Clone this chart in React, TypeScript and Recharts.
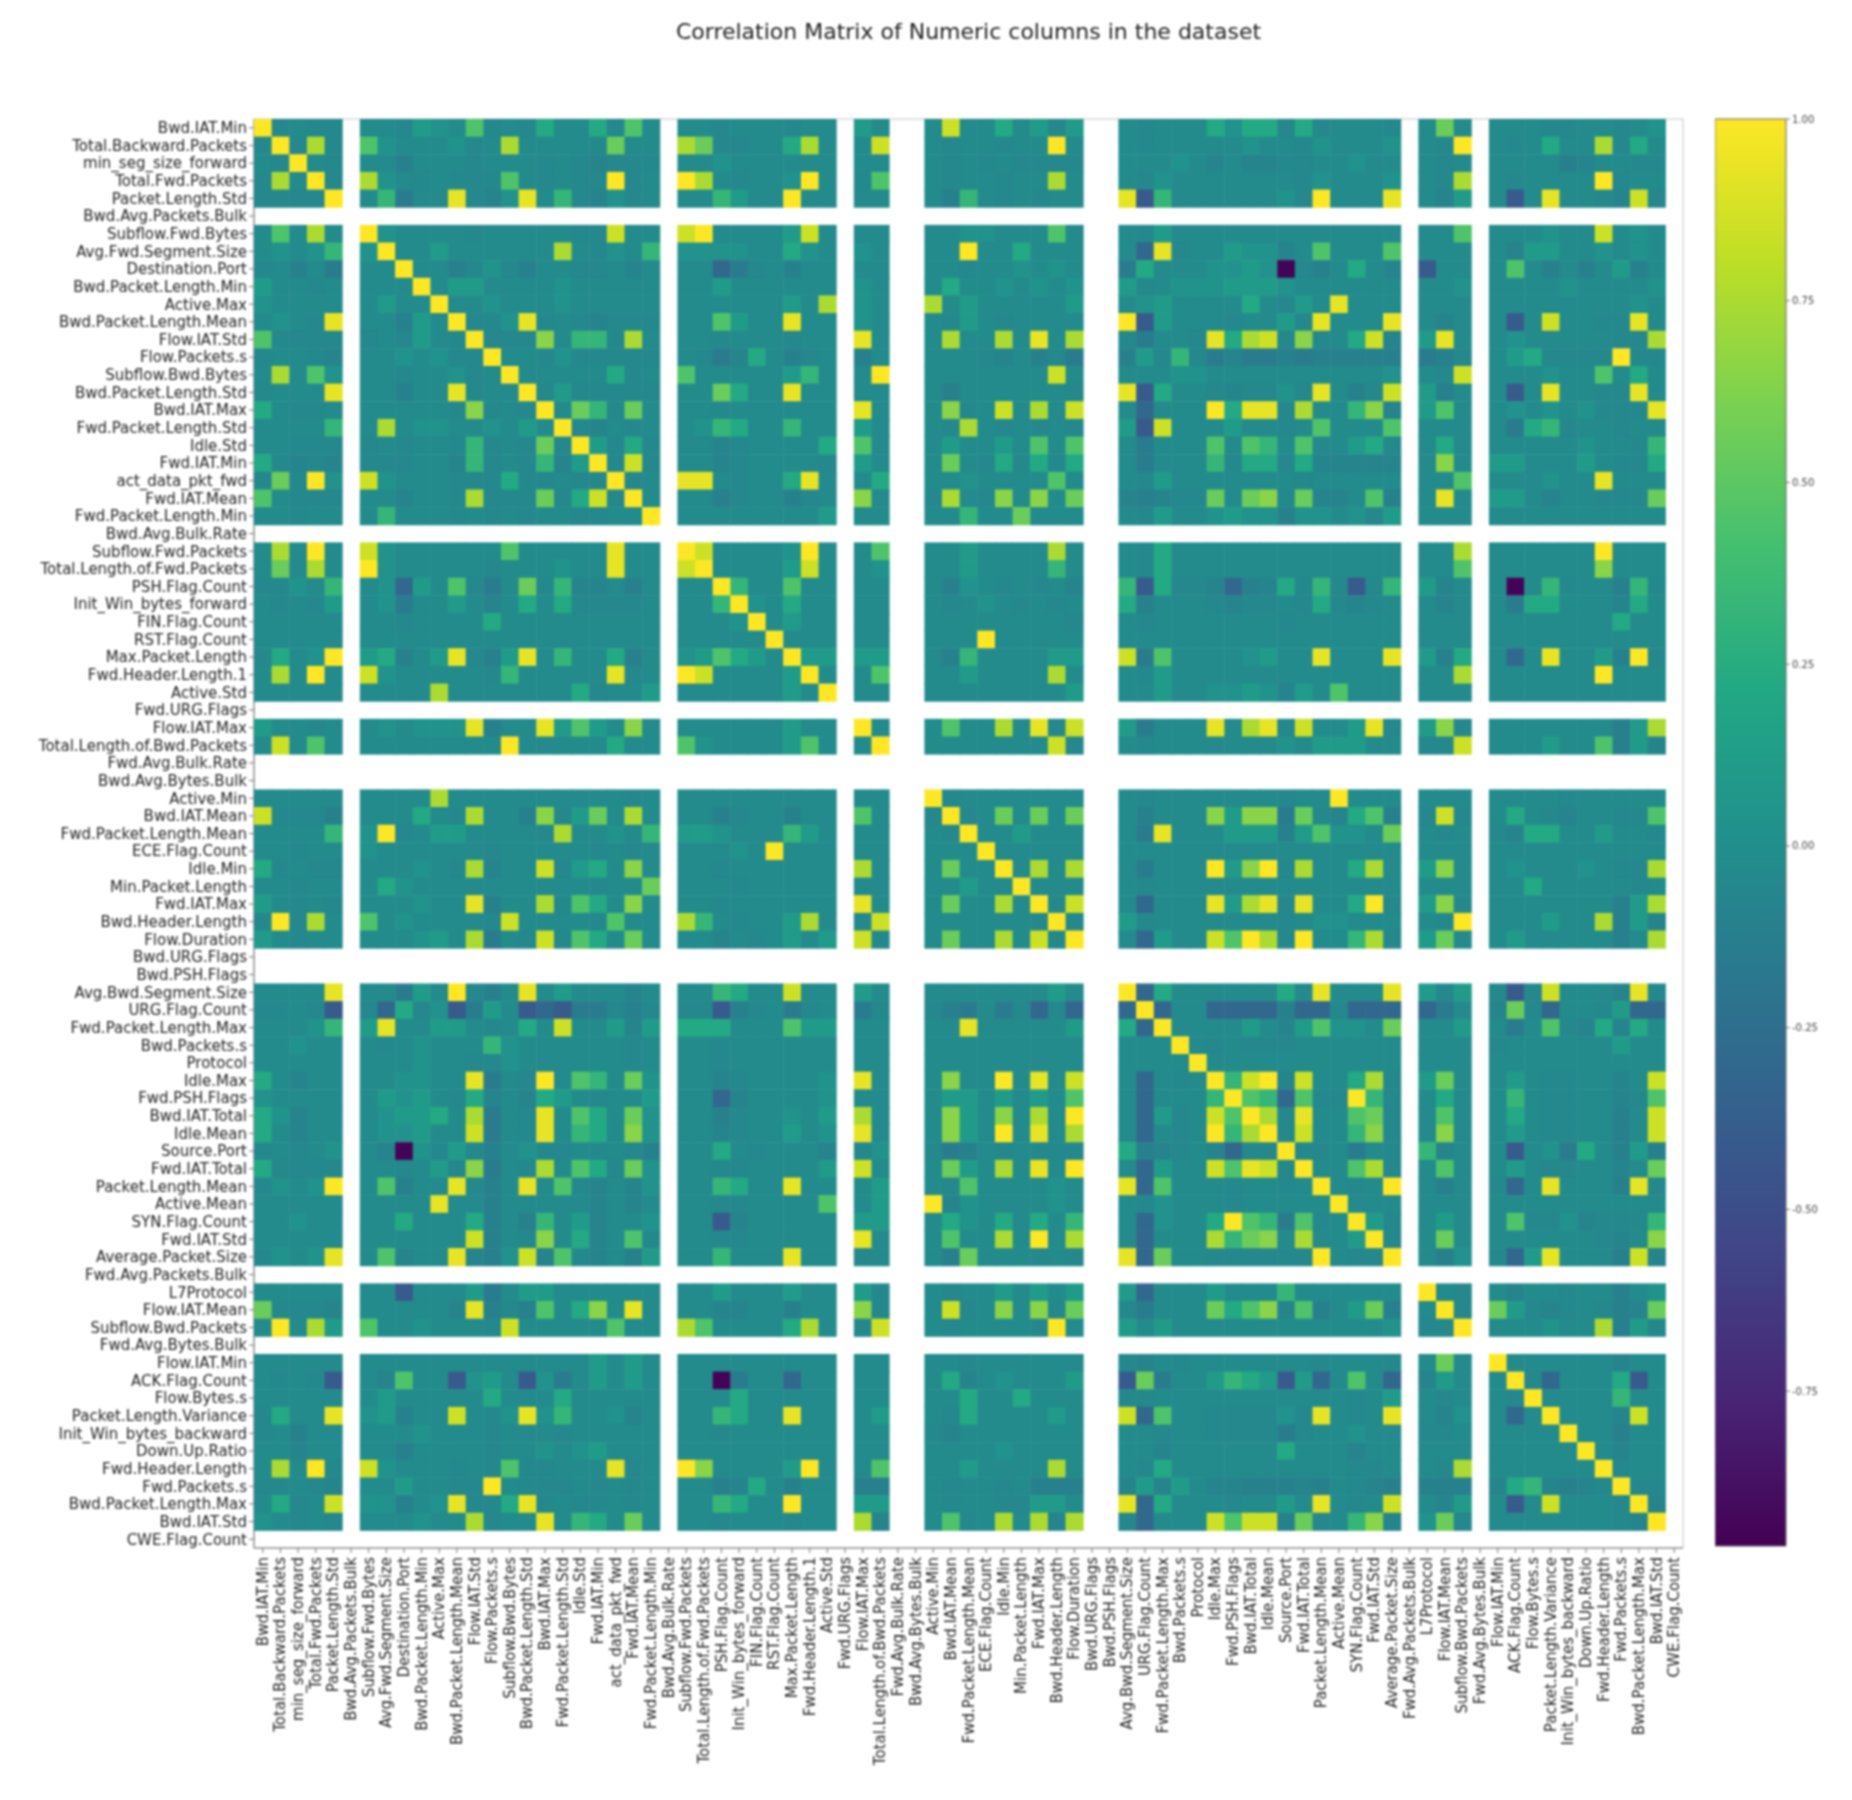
import React from 'react';
import { BarChart, Bar, ScatterChart, Scatter, XAxis, YAxis, ReferenceArea } from 'recharts';

const labels = [
  'Bwd.IAT.Min', 'Total.Backward.Packets', 'min_seg_size_forward', 'Total.Fwd.Packets', 'Packet.Length.Std',
  'Bwd.Avg.Packets.Bulk', 'Subflow.Fwd.Bytes', 'Avg.Fwd.Segment.Size', 'Destination.Port', 'Bwd.Packet.Length.Min',
  'Active.Max', 'Bwd.Packet.Length.Mean', 'Flow.IAT.Std', 'Flow.Packets.s', 'Subflow.Bwd.Bytes',
  'Bwd.Packet.Length.Std', 'Bwd.IAT.Max', 'Fwd.Packet.Length.Std', 'Idle.Std', 'Fwd.IAT.Min',
  'act_data_pkt_fwd', 'Fwd.IAT.Mean', 'Fwd.Packet.Length.Min', 'Bwd.Avg.Bulk.Rate', 'Subflow.Fwd.Packets',
  'Total.Length.of.Fwd.Packets', 'PSH.Flag.Count', 'Init_Win_bytes_forward', 'FIN.Flag.Count', 'RST.Flag.Count',
  'Max.Packet.Length', 'Fwd.Header.Length.1', 'Active.Std', 'Fwd.URG.Flags', 'Flow.IAT.Max',
  'Total.Length.of.Bwd.Packets', 'Fwd.Avg.Bulk.Rate', 'Bwd.Avg.Bytes.Bulk', 'Active.Min', 'Bwd.IAT.Mean',
  'Fwd.Packet.Length.Mean', 'ECE.Flag.Count', 'Idle.Min', 'Min.Packet.Length', 'Fwd.IAT.Max',
  'Bwd.Header.Length', 'Flow.Duration', 'Bwd.URG.Flags', 'Bwd.PSH.Flags', 'Avg.Bwd.Segment.Size',
  'URG.Flag.Count', 'Fwd.Packet.Length.Max', 'Bwd.Packets.s', 'Protocol', 'Idle.Max',
  'Fwd.PSH.Flags', 'Bwd.IAT.Total', 'Idle.Mean', 'Source.Port', 'Fwd.IAT.Total',
  'Packet.Length.Mean', 'Active.Mean', 'SYN.Flag.Count', 'Fwd.IAT.Std', 'Average.Packet.Size',
  'Fwd.Avg.Packets.Bulk', 'L7Protocol', 'Flow.IAT.Mean', 'Subflow.Bwd.Packets', 'Fwd.Avg.Bytes.Bulk',
  'Flow.IAT.Min', 'ACK.Flag.Count', 'Flow.Bytes.s', 'Packet.Length.Variance', 'Init_Win_bytes_backward',
  'Down.Up.Ratio', 'Fwd.Header.Length', 'Fwd.Packets.s', 'Bwd.Packet.Length.Max', 'Bwd.IAT.Std',
  'CWE.Flag.Count',
];

// columns with no variance, they stay blank in the matrix
const blankColumns = [5, 23, 33, 36, 37, 47, 48, 65, 69, 80];

// one letter per estimated correlation
const levelValues: Record<string, number> = {
  z: 1, y: 0.93, x: 0.85, w: 0.75, v: 0.65, u: 0.55, t: 0.45, s: 0.33, r: 0.22, q: 0.1, p: 0.03,
  o: -0.03, n: -0.05, m: -0.08, l: -0.11, k: -0.15, j: -0.3, i: -0.4, f: -0.95,
};

// upper triangle, each row starts on the diagonal, spaces mark the blank columns
const corrRows = [
  'znonn oonqpotnonroornto oonooonoo qo oxooroqnq onooorprrnrnooon ouo ooonnoonop',
  'znwn tpooopnowoooonuoo wunnoorwo ox onoonoozo onooooopoonpooop onz onoroownro',
  'zon oolooonooononmnnn oopoooooo oo onononnnn ooopomommnnoopoo ono oooolmoonn',
  'zn wpononnntononnzno zwonoopzo nt onoonoowo onpooooooonpooop onw onooooznoo',
  'z oskooynmpyosnmpno oosqoozoo oo olsononoo yisoooooopnzoooy omq oioyoonmxn',
  'zpoooonooooonnxoo xzooooqxo oo ooppoooto onqooooooooooooo oot ooopooxopo',
  'zooqoooooowonpos ppppoorpo po oozoorooo ojynooqppmotooot ooo omqqoopopo',
  'zoolnpnloonnomo oojknoloo oo oonoopopo kroooppqpfnlorom ioo otololoqlo',
  'zoqqoooopooooo ooqoooooo po oroopopop qnopppqqqpoooooo oop oooopoooop',
  'zoopooopooooo ooooooqow po woqoooooq opqooooronqoyooo ooo oooooooopo',
  'znnpynonmnnn ootqooyoo po onqonoooo ziqooonooqnyoooy omo oioxoonnyo',
  'znnnvossnwo oonooonoo yo owoowoyow nkoonyrwxnvnorxm qyo opooooonnw',
  'zoonpnnnnn onkmrolno lo ooonmolnk lqnsnkmkklklllll kln oqrnnnnznn',
  'zooooorno toooooqso oz oooooooxo oooppoooooooooop onx ooopootoro',
  'znqnnnnn oourooyoo oo oloooooon yiroonmnnpnyolnx qlo oioyoonnyo',
  'zousnuo oonoooooo yo ovnoxowox ojooozryynwoosvm qto opopopnnny',
  'znmono opsroosoo qo onwononon qixoooqoonotooot ooo okrsnoonoo',
  'zqnrn oomnoooor to oqooqotot okooototsotnoqrn oro ooooopoons',
  'znxn oomnoooon qo ouonrnrnr okooosnrrnrmmmmm ovo qqoooqonnr',
  'zno yyonooryo or oopooooto onqooooooonooooo oot ooopooyooo',
  'zo oolnoolno vo nwonvovou mlmnnuouvnummotl oyo qqomoonnnu',
  'z ooooooooq oo oosoouooo onqoopqpplppopnq ooo oooooooooo',
  'zxoooopzo ot ooqoooowo onrooooooooooooo oow oooooozooo',
  'zooooqxo op ooqooooso onrooooooooooooo oot oooooovooo',
  'zsootoo oo olpononom sirnnmjlmrnsnins qmo ofosnoolsn',
  'zporoo oo onoponono rlooonmnnonrnmno omo okrrooomro',
  'zoqoo oo oooooooon onooooooonoooooo ooo oooooooroo',
  'zooo oo ooozooooo oooooooooooooooo ooo oooooooooo',
  'zqq qq olsooooqq xktoooopqooyoooy qlr ojoyooqlzn',
  'zo ot ooqoooowo onqooooooooooooo oow oooooozooo',
  'z oo ooooooooq ooqooppqpmqotooo ooo oooooooooo',
  'zo otoowoynx qkoooyowynxooqyn qvn ooooooolqw',
  'z oooooooxn onooooooopoqqqoo nnx oooqootlqm',
  'znooooooo onooooooonoozooo ooo oooonooooo',
  'znououou olooovqvvkunmrtl nxn oronmoonnt',
  'zooqooo okyoooqqqlqtppou ono nmrrooqoon',
  'zooooo oooooooooooooooo ooo oooooooooo',
  'zowow okooozqvznwoorwo qvo opoooponnw',
  'zooo onoooooooooooooo ooo oorooooono',
  'znx ojoooyqwynyoorzn qvn ooooooolqw',
  'zn qnooooooonoppooo onz oooqoowlqm',
  'z ojqooxtzwnzooswn quo oqooooolow',
  'zjrooooooroyoooy qnq ninxooomyn',
  'zjoojjjjljjnjjj jko munjoonqjj',
  'zooooqomqtppou ooq okotnmrmro',
  'zononnnoooooo ooo nooooooqoo',
  'zooooooooooo ooo oooooooooo',
  'zsxzmxoorwn quo oqonnoomox',
  'ztsjtnnzsn oro osonnoomnt',
  'zwnyootun oto oronnoolox',
  'znxoosvn ovo oqonnoolox',
  'znnokon smo oiopkrolql',
  'zootwn oto oqonnoomou',
  'zonoz olo njoyooolyn',
  'zooo ooo oooooooooo',
  'zqn oqo otnnpmnnns',
  'zn ouo oooooonmov',
  'z olp njqyooolxm',
  'zon omoonoolop',
  'zn uqnmnonlmu',
  'z ooopoowlqn',
  'zoooooomoo',
  'znjooorio',
  'zoooosoo',
  'zooomxo',
  'zooloo',
  'zomoo',
  'znoo',
  'znn',
  'zm',
  'z',
];

const colorbarTicks = [-0.75, -0.5, -0.25, 0, 0.25, 0.5, 0.75, 1];
const colorMin = -0.963;
const colorMax = 1;

const viridis = ['#440154', '#482475', '#414487', '#355f8d', '#2a788e', '#21918c', '#22a884', '#44bf70', '#7ad151', '#bddf26', '#fde725'];

const FONT = '"DejaVu Sans", sans-serif';
const PLOT_LEFT = 254;
const PLOT_TOP = 119;
const PLOT_SIZE = 1429;
const CELL = PLOT_SIZE / labels.length;
const BAR_PAD = 12;

const hexToRgb = (h: string) => [1, 3, 5].map((i) => parseInt(h.slice(i, i + 2), 16));

const colorFor = (value: number) => {
  const t = Math.min(1, Math.max(0, (value - colorMin) / (colorMax - colorMin))) * (viridis.length - 1);
  const i = Math.min(viridis.length - 2, Math.floor(t));
  const a = hexToRgb(viridis[i]);
  const b = hexToRgb(viridis[i + 1]);
  const c = a.map((v, k) => Math.round(v + (b[k] - v) * (t - i)));
  return `rgb(${c[0]},${c[1]},${c[2]})`;
};

const activeColumns = labels.map((_, i) => i).filter((i) => !blankColumns.includes(i));
const rows = corrRows.map((r) => r.replace(/ /g, '').padStart(activeColumns.length, '-'));

const cells = activeColumns.flatMap((col, c) =>
  activeColumns.map((row, r) => ({
    x: col + 0.5,
    y: row + 0.5,
    value: levelValues[rows[Math.min(r, c)][Math.max(r, c)]],
  }))
);

const tickPositions = labels.map((_, i) => i + 0.5);
const labelAt = (v: number) => labels[Math.floor(v)];

const HeatCell = (props: any) => (
  <rect
    x={props.cx - CELL / 2}
    y={props.cy - CELL / 2}
    width={CELL + 0.5}
    height={CELL + 0.5}
    fill={colorFor(props.payload.value)}
  />
);

const RotatedTick = (props: any) => (
  <text
    x={props.x}
    y={props.y + 2}
    transform={`rotate(-90 ${props.x} ${props.y + 2})`}
    textAnchor="end"
    dominantBaseline="central"
    fontSize={15}
    fontFamily={FONT}
    fill="#222"
  >
    {labelAt(props.payload.value)}
  </text>
);

const colorbarData = [{ name: 'corr', range: [colorMin, colorMax] }];

const App = () => (
  <div style={{ position: 'absolute', left: 0, top: 0, width: 1852, height: 1800, background: '#fff', filter: 'blur(0.8px)' }}>
    <div
      style={{
        position: 'absolute',
        top: 19,
        left: 0,
        width: 1937,
        textAlign: 'center',
        fontFamily: FONT,
        fontSize: 22,
        color: '#222',
      }}
    >
      Correlation Matrix of Numeric columns in the dataset
    </div>
    <ScatterChart
      width={1852}
      height={1800}
      margin={{ top: PLOT_TOP, right: 1852 - PLOT_LEFT - PLOT_SIZE, bottom: 0, left: 0 }}
      style={{ position: 'absolute', left: 0, top: 0 }}
    >
      <XAxis
        type="number"
        dataKey="x"
        domain={[0, labels.length]}
        ticks={tickPositions}
        interval={0}
        height={1800 - PLOT_TOP - PLOT_SIZE}
        tick={<RotatedTick />}
        tickSize={5}
        stroke="#777"
      />
      <YAxis
        type="number"
        dataKey="y"
        reversed
        domain={[0, labels.length]}
        ticks={tickPositions}
        interval={0}
        width={PLOT_LEFT}
        tickFormatter={labelAt}
        tick={{ fontSize: 15, fontFamily: FONT, fill: '#222' }}
        tickSize={5}
        stroke="#777"
      />
      <Scatter data={cells} shape={<HeatCell />} isAnimationActive={false} />
      <ReferenceArea x1={0} x2={labels.length} y1={0} y2={labels.length} fill="none" stroke="#c4c4c4" />
    </ScatterChart>
    <BarChart
      width={137}
      height={1427 + BAR_PAD * 2}
      data={colorbarData}
      margin={{ top: BAR_PAD, right: 0, bottom: BAR_PAD, left: 0 }}
      barCategoryGap={0}
      style={{ position: 'absolute', left: 1715, top: 119 - BAR_PAD }}
    >
      <defs>
        <linearGradient id="viridisBar" x1="0" y1="1" x2="0" y2="0">
          {viridis.map((c, i) => (
            <stop key={c} offset={`${(i / (viridis.length - 1)) * 100}%`} stopColor={c} />
          ))}
        </linearGradient>
      </defs>
      <XAxis dataKey="name" hide />
      <YAxis
        orientation="right"
        type="number"
        domain={[colorMin, colorMax]}
        ticks={colorbarTicks}
        interval={0}
        width={66}
        tickFormatter={(v: number) => v.toFixed(2)}
        tick={{ fontSize: 10, fontFamily: FONT, fill: '#444' }}
        tickSize={4}
        axisLine={false}
        stroke="#777"
      />
      <Bar dataKey="range" fill="url(#viridisBar)" stroke="#666" isAnimationActive={false} />
    </BarChart>
  </div>
);

export default App;
